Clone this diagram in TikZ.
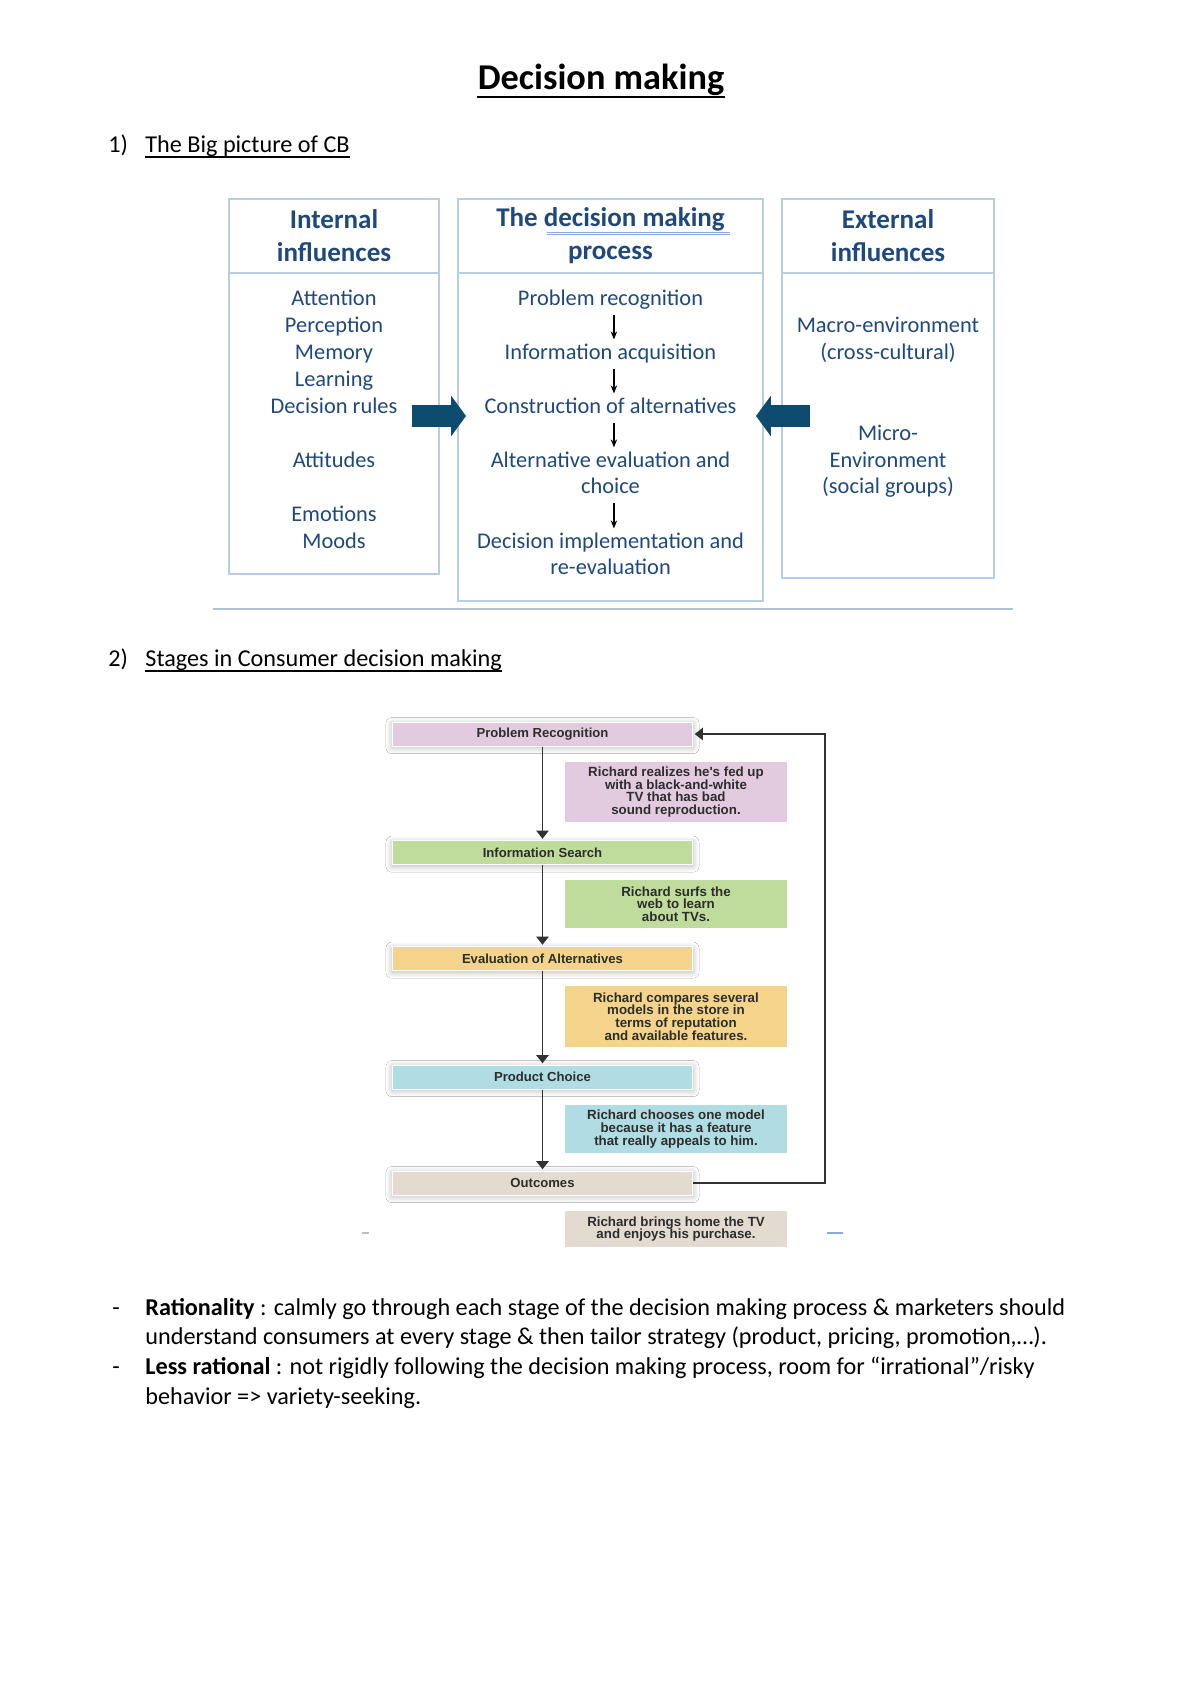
\documentclass[tikz,border=0pt]{standalone}
\usepackage{fontspec}
\setmainfont{Carlito}
\newfontfamily\flowfont{Liberation Sans}
\usepackage{xcolor}
\usetikzlibrary{arrows.meta, shadows.blur}

\definecolor{diagramblue}{RGB}{31,73,125}
\definecolor{columnline}{RGB}{184,204,228}
\definecolor{arrowblue}{RGB}{12,74,110}
\definecolor{spellblue}{RGB}{140,170,220}
\definecolor{stagepink}{RGB}{227,203,223}
\definecolor{stagegreen}{RGB}{191,220,156}
\definecolor{stageyellow}{RGB}{243,212,138}
\definecolor{stageblue}{RGB}{176,220,228}
\definecolor{stagebeige}{RGB}{228,219,208}
\definecolor{stagetext}{RGB}{45,45,45}
\definecolor{flowline}{RGB}{50,50,50}

\begin{document}
\begin{tikzpicture}[x=0.4958pt, y=-0.4958pt,
    every node/.style={inner sep=0pt},
    heading/.style={anchor=base west, font=\fontsize{12}{14.6}\selectfont},
    head/.style={align=center, text=diagramblue, font=\bfseries\fontsize{13.4}{16.4}\selectfont},
    item/.style={anchor=base, text=diagramblue, font=\fontsize{11.1}{13.5}\selectfont, text height=7.5pt, text depth=2.5pt},
    column/.style={draw=columnline, line width=0.8pt},
    stagearrow/.style={-{Stealth[length=4pt,width=3.2pt]}, line width=0.6pt, shorten <=2.5pt, shorten >=2pt},
    bigarrow/.style={arrowblue, line width=10.9pt, -{Triangle[length=7.4pt,width=19.8pt]}},
    stage/.style={fill=#1, draw=white, line width=0.5pt, minimum width=149.2pt, minimum height=11.9pt,
      font=\flowfont\bfseries\fontsize{6.5}{7}\selectfont, text=stagetext,
      blur shadow={shadow xshift=0pt, shadow yshift=-0.8pt, shadow blur radius=3pt, shadow blur steps=8, shadow opacity=28}},
    example/.style={fill=#1, minimum width=110pt, align=center, text=stagetext,
      font=\flowfont\bfseries\fontsize{6.6}{6.3}\selectfont},
    flowarrow/.style={draw=flowline, line width=0.85pt, -{Triangle[length=4pt,width=6pt]}, shorten >=0.6pt}]
    \def\px{0.4958pt};

    \useasboundingbox (0,0) rectangle (1200,1698);
    \fill[white] (0,0) rectangle (1200,1698);

    % title and first heading
    \node[anchor=base, font=\bfseries\fontsize{18}{22}\selectfont] (title) at (601,89) {Decision making};
    \draw[line width=1.2pt] ([yshift=-4pt]title.base west) -- ([yshift=-4pt]title.base east);

    \node[heading] (num one) at (108,152) {1)};
    \node[heading] (big picture) at (145,152) {The Big picture of CB};
    \draw[line width=0.8pt] ([yshift=-2.5pt]big picture.base west) -- ([yshift=-2.5pt]big picture.base east);

    % the three columns
    \begin{scope}
        \draw[column] (229,199) rectangle (439,574);
        \draw[column] (229,273) -- (439,273);
        \draw[column] (458,199) rectangle (763,601);
        \draw[column] (458,273) -- (763,273);
        \draw[column] (782,199) rectangle (994,578);
        \draw[column] (782,273) -- (994,273);
    \end{scope}

    \node[head] (internal head) at (334,236) {Internal\\influences};
    \node[head] (process head) at (610.5,236) {The decision making\\process};
    \node[head] (external head) at (888,236) {External\\influences};
    \draw[spellblue, line width=0.4pt] (547,232) -- (730,232);
    \draw[spellblue, line width=0.4pt] (547,234.5) -- (730,234.5);

    \foreach \word/\y [count=\i] in {Attention/305, Perception/332, Memory/359, Learning/386,
        Decision rules/413, Attitudes/467, Emotions/521, Moods/548}
        \node[item] (internal \i) at (334,\y) {\word};

    \foreach \word/\y [count=\i] in {Macro-environment/332, {(cross-cultural)}/359, Micro-/440,
        Environment/467, {(social groups)}/493}
        \node[item] (external \i) at (888,\y) {\word};

    \node[item] (problem recognition) at (610.5,305) {Problem recognition};
    \node[item] (information acquisition) at (610.5,359) {Information acquisition};
    \node[item] (construction) at (610.5,413) {Construction of alternatives};
    \node[item] (evaluation) at (610.5,467) {Alternative evaluation and};
    \node[item] (evaluation two) at (610.5,493) {choice};
    \node[item] (implementation) at (610.5,548) {Decision implementation and};
    \node[item] (implementation two) at (610.5,574) {re-evaluation};

    \draw[stagearrow] ([xshift=1.7pt]problem recognition.south) -- ([xshift=1.7pt]information acquisition.north);
    \draw[stagearrow] ([xshift=1.7pt]information acquisition.south) -- ([xshift=1.7pt]construction.north);
    \draw[stagearrow] ([xshift=1.7pt]construction.south) -- ([xshift=1.7pt]evaluation.north);
    \draw[stagearrow] ([xshift=1.7pt]evaluation two.south) -- ([xshift=1.7pt]implementation.north);

    \coordinate (internal arrow start) at (412,416);
    \coordinate (internal arrow end) at (466,416);
    \coordinate (external arrow start) at (810,416);
    \coordinate (external arrow end) at (756,416);
    \draw[bigarrow] (internal arrow start) -- (internal arrow end);
    \draw[bigarrow] (external arrow start) -- (external arrow end);

    \draw[columnline!85!gray, line width=0.9pt] (213,609) -- (1013,609);

    % second heading
    \node[heading] (num two) at (108,666) {2)};
    \node[heading] (stages heading) at (145,666) {Stages in Consumer decision making};
    \draw[line width=0.8pt] ([yshift=-2.5pt]stages heading.base west) -- ([yshift=-2.5pt]stages heading.base east);

    % stages flow
    \node[stage=stagepink] (recognition) at (542.5,734) {Problem Recognition};
    \node[stage=stagegreen] (search) at (542.5,852.5) {Information Search};
    \node[stage=stageyellow] (alternatives) at (542.5,958.5) {Evaluation of Alternatives};
    \node[stage=stageblue] (choice) at (542.5,1077) {Product Choice};
    \node[stage=stagebeige] (outcomes) at (542.5,1183) {Outcomes};

    \node[example=stagepink, minimum height=29.7pt] (recognition example) at (676,792)
        {Richard realizes he's fed up\\with a black-and-white\\TV that has bad\\sound reproduction.};
    \node[example=stagegreen, minimum height=23.8pt] (search example) at (676,904)
        {Richard surfs the\\web to learn\\about TVs.};
    \node[example=stageyellow, minimum height=30.2pt] (alternatives example) at (676,1016.5)
        {Richard compares several\\models in the store in\\terms of reputation\\and available features.};
    \node[example=stageblue, minimum height=23.8pt] (choice example) at (676,1129)
        {Richard chooses one model\\because it has a feature\\that really appeals to him.};
    \node[example=stagebeige, minimum height=17.8pt] (outcomes example) at (676,1229)
        {Richard brings home the TV\\and enjoys his purchase.};

    \draw[flowarrow] (recognition) -- (search);
    \draw[flowarrow] (search) -- (alternatives);
    \draw[flowarrow] (alternatives) -- (choice);
    \draw[flowarrow] (choice) -- (outcomes);
    \coordinate (loop corner) at (825,1183);
    \draw[flowarrow] (outcomes.east) -- (loop corner) |- (recognition.east);

    \draw[gray!50, line width=0.6pt] (362,1233) -- (369,1233);
    \draw[spellblue, line width=0.9pt] (827,1233) -- (843,1233);

    % bullets
    \begin{scope}[every node/.append style={heading}]
        \node (dash one) at (112,1315) {-};
        \node (rationality) at (145,1315) {\textbf{Rationality} : calmly go through each stage of the decision making process \& marketers should};
        \node (rationality two) at (145,1344) {understand consumers at every stage \& then tailor strategy (product, pricing, promotion,…).};
        \node (dash two) at (112,1374) {-};
        \node (less rational) at (145,1374) {\textbf{Less rational} : not rigidly following the decision making process, room for “irrational”/risky};
        \node (less rational two) at (145,1404) {behavior => variety-seeking.};
    \end{scope}
\end{tikzpicture}
\end{document}
